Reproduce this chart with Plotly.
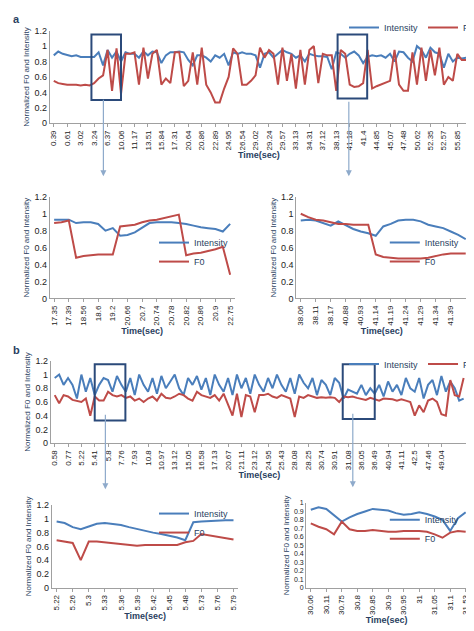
import plotly.graph_objects as go

BLUE = "#4a7ebb"; RED = "#be4b48"
# ---------- data ----------
a_labels = ["0.39","0.61","3.02","3.24","6.37","10.06","11.17","13.51","15.84","17.31","20.64","20.86","22.89","24.95","26.54","29.02","29.24","29.57","33.13","34.31","37.12","38.13","41.18","41.4","44.85","45.07","47.48","50.62","52.35","52.57","55.85"]
a_f0 = [0.55,0.52,0.51, 0.50,0.50,0.50, 0.49,0.50,0.49, 0.52,0.58,0.62, 0.95,0.42,0.97, 0.38,0.90,0.90,
        0.92,0.50,0.98, 0.58,0.90,0.95, 0.50,0.58,0.52, 0.92,0.92,0.48, 0.55,0.92,0.50, 0.98,0.50,0.40,
        0.27,0.27,0.45, 0.60,0.97,0.90, 0.50,0.50,0.55, 0.62,0.98,0.85, 0.95,0.90,0.50, 0.98,0.55,0.90,
        0.45,0.95,0.50, 0.95,1.0,0.52, 0.90,0.88,0.88, 0.42,0.95,0.90, 0.50,0.47,0.48, 0.52,0.95,0.45,
        0.48,0.50,0.52, 0.55,0.95,0.50, 0.42,0.42,0.92, 0.50,0.98,0.55, 0.95,0.62,0.98, 0.50,0.60,0.55,
        0.90,0.82,0.82]
a_int = [0.88,0.93,0.90, 0.88,0.87,0.88, 0.86,0.86,0.86, 0.86,0.92,0.75, 0.95,0.85,0.93, 0.80,0.92,0.90,
         0.90,0.85,0.93, 0.88,0.93,0.92, 0.78,0.88,0.92, 0.92,0.93,0.92, 0.82,0.75,0.88, 0.88,0.85,0.80,
         0.88,0.85,0.90, 0.75,0.92,0.90, 0.92,0.90,0.90, 0.88,0.72,0.90, 0.92,0.85,0.90, 0.95,0.92,0.90,
         0.85,0.88,0.80, 0.90,0.88,0.87, 0.87,0.86,0.70, 0.92,0.90,0.85, 0.90,0.93,0.88, 0.78,0.86,0.88,
         0.87,0.88,0.85, 0.90,0.80,0.93, 0.92,0.85,0.80, 1.0,0.95,0.85, 0.98,0.92,0.90, 0.72,0.90,0.80,
         0.85,0.84,0.85]

al_labels = ["17.35","17.39","18.56","18.6","19.2","20.66","20.7","20.74","20.78","20.82","20.86","20.9","22.75"]
al_f0 = [0.89,0.90, 0.92,0.48, 0.50,0.51, 0.52,0.52, 0.52,0.85, 0.86,0.87, 0.90,0.92, 0.93,0.95, 0.97,0.99,
         0.51,0.53, 0.54,0.56, 0.58,0.61, 0.28]
al_int = [0.93,0.93, 0.93,0.89, 0.90,0.90, 0.88,0.80, 0.83,0.74, 0.75,0.78, 0.84,0.89, 0.90,0.90, 0.90,0.89,
          0.88,0.86, 0.84,0.83, 0.82,0.79, 0.88]

ar_labels = ["38.06","38.11","38.17","40.88","40.93","41.14","41.19","41.24","41.29","41.34","41.39"]
ar_f0 = [1.0,0.96, 0.93,0.92, 0.90,0.88, 0.88,0.87, 0.87,0.87, 0.52,0.49, 0.48,0.47, 0.47,0.47, 0.47,0.48,
         0.50,0.52, 0.53,0.53, 0.53]
ar_int = [0.92,0.93, 0.92,0.89, 0.86,0.91, 0.86,0.82, 0.79,0.77, 0.74,0.85, 0.88,0.92, 0.93,0.93, 0.91,0.87,
          0.85,0.83, 0.79,0.75, 0.70]

b_labels = ["0.58","0.77","5.22","5.41","5.8","7.76","7.93","10.8","10.97","13.12","15.05","16.58","17.13","20.67","21.11","23.12","24.95","25.43","28.08","28.25","30.74","30.91","31.08","36.05","36.49","40.94","41.11","42.5","47.46","49.04"]
b_f0 = [0.70,0.58,0.70, 0.68,0.63,0.62, 0.60,0.65,0.40, 0.68,0.62,0.62, 0.75,0.70,0.68, 0.70,0.66,0.68,
        0.62,0.65,0.60, 0.65,0.68,0.62, 0.72,0.66,0.65, 0.68,0.72,0.70, 0.65,0.62,0.75, 0.70,0.68,0.66,
        0.70,0.62,0.72, 0.55,0.40,0.72, 0.38,0.70,0.68, 0.45,0.70,0.70, 0.72,0.68,0.66, 0.70,0.68,0.65,
        0.38,0.68,0.66, 0.70,0.68,0.66, 0.67,0.66,0.67, 0.66,0.60,0.68, 0.67,0.68,0.66, 0.65,0.63,0.66,
        0.64,0.62,0.65, 0.65,0.64,0.62, 0.64,0.62,0.60, 0.40,0.55,0.45, 0.62,0.65,0.60, 0.42,0.40,0.92,
        0.70,0.68,0.95]
b_int = [0.95,1.0,0.85, 0.95,0.85,0.65, 1.0,0.75,0.95, 0.70,0.85,0.95, 0.92,0.75,0.98, 0.85,0.75,0.95,
         0.70,1.0,0.85, 0.75,0.95,0.72, 0.98,0.80,0.90, 1.0,0.80,0.70, 0.95,0.85,0.98, 0.78,0.95,0.70,
         1.0,0.85,0.75, 0.95,0.70,1.0, 0.80,0.95,0.72, 1.0,0.85,0.75, 0.95,0.80,1.0, 0.85,0.75,0.95,
         0.72,1.0,0.88, 0.80,0.95,0.70, 0.92,0.85,0.70, 0.95,0.88,0.65, 0.78,0.75,0.72, 0.85,0.70,0.80,
         0.72,0.85,0.68, 0.90,0.75,0.85, 0.70,0.95,0.80, 0.75,0.95,0.65, 0.85,0.92,0.70, 0.98,0.75,0.90,
         0.80,0.62,0.65]

bl_labels = ["5.22","5.26","5.3","5.33","5.36","5.39","5.42","5.45","5.48","5.73","5.76","5.79"]
bl_f0 = [0.69,0.67, 0.65,0.40, 0.67,0.67, 0.66,0.65, 0.64,0.63, 0.61,0.62, 0.62,0.61, 0.61,0.62,
         0.66,0.68, 0.78,0.76, 0.73,0.71, 0.70]
bl_int = [0.96,0.94, 0.88,0.85, 0.89,0.93, 0.94,0.93, 0.91,0.88, 0.85,0.83, 0.80,0.78, 0.76,0.73,
          0.69,0.95, 0.96,0.97, 0.97,0.98, 0.98]

br_labels = ["30.06","30.11","30.75","30.8","30.85","30.9","30.95","31","31.05","31.1","31.53"]
br_f0 = [0.76,0.72, 0.69,0.63, 0.78,0.69, 0.67,0.67, 0.68,0.67, 0.66,0.66, 0.67,0.67, 0.67,0.66,
         0.63,0.59, 0.65,0.67, 0.66]
br_int = [0.92,0.95, 0.93,0.86, 0.78,0.83, 0.87,0.90, 0.93,0.92, 0.91,0.88, 0.86,0.87, 0.89,0.87,
          0.84,0.80, 0.67,0.82, 0.89]

# ---------- figure ----------
FONT = "Liberation Sans"
fig = go.Figure()

panels = [
    ("", a_labels, a_f0, a_int, 3, [0.0886, 0.9768], [0.8225, 0.9715], [0, 1.2], 0.2, "legend", [-0.3, 30.8], 9),
    ("2", al_labels, al_f0, al_int, 2, [0.0886, 0.481], [0.5404, 0.704], [0, 1.2], 0.2, "legend2", [-0.3, 12.3], 9),
    ("3", ar_labels, ar_f0, ar_int, 2, [0.612, 0.975], [0.5404, 0.704], [0, 1.2], 0.2, "legend3", [-0.3, 11.1], 9),
    ("4", b_labels, b_f0, b_int, 3, [0.0907, 0.9768], [0.3075, 0.4398], [0, 1.2], 0.2, "legend4", [-0.3, 31.0], 9),
    ("5", bl_labels, bl_f0, bl_int, 2, [0.093, 0.489], [0.0745, 0.2076], [0, 1.2], 0.2, "legend5", [-0.3, 11.3], 9),
    ("6", br_labels, br_f0, br_int, 2, [0.633, 0.975], [0.0745, 0.211], [0, 1.0], 0.1, "legend6", [-0.3, 10.1], 7),
]
legpos = {
    "legend": dict(x=1.0, y=1.0, orientation="h", xanchor="right", yanchor="top"),
    "legend2": dict(x=0.31, y=0.615, orientation="v"),
    "legend3": dict(x=0.80, y=0.615, orientation="v"),
    "legend4": dict(x=1.0, y=0.458, orientation="h", xanchor="right", yanchor="top"),
    "legend5": dict(x=0.31, y=0.14, orientation="v"),
    "legend6": dict(x=0.80, y=0.13, orientation="v"),
}
lay = {}
for key, labels, f0, inten, per, xd, yd, yr, dt, leg, xr, yfs in panels:
    xs = [i / per for i in range(len(f0))]
    xa = "x" + key; ya = "y" + key
    fig.add_trace(go.Scatter(x=xs, y=inten, mode="lines", name="Intensity", line=dict(color=BLUE, width=2),
                             xaxis=xa, yaxis=ya, legend=leg))
    fig.add_trace(go.Scatter(x=xs, y=f0, mode="lines", name="F0", line=dict(color=RED, width=2),
                             xaxis=xa, yaxis=ya, legend=leg))
    lay["xaxis" + key] = dict(domain=xd, anchor=ya, range=xr, tickmode="array",
                              tickvals=list(range(len(labels))), ticktext=labels, tickangle=-90,
                              showline=True, linecolor="#a0a0a0", ticks="outside", ticklen=3,
                              tickcolor="#a0a0a0", showgrid=False, zeroline=False,
                              tickfont=dict(size=8, family=FONT, color="#222"),
                              title=dict(text="<b>Time(sec)</b>", font=dict(size=9, family=FONT), standoff=2))
    lay["yaxis" + key] = dict(domain=yd, anchor=xa, range=yr, dtick=dt, showline=True, linecolor="#a0a0a0",
                              showgrid=False, zeroline=False, tickfont=dict(size=yfs, family=FONT, color="#222"),
                              title=dict(text="Normalized F0 and Intensity", font=dict(size=8, family=FONT), standoff=3))
    lay[leg] = dict(font=dict(size=9, family=FONT), bgcolor="rgba(0,0,0,0)", tracegroupgap=0,
                    itemwidth=30, **legpos[leg])

fig.update_layout(**lay)

for xref, yref, x0, x1, y0, y1 in [("x", "y", 2.8, 5.0, 0.30, 1.15), ("x", "y", 21.1, 23.3, 0.32, 1.15),
                                   ("x4", "y4", 3.0, 5.3, 0.33, 1.15), ("x4", "y4", 21.6, 24.0, 0.35, 1.15)]:
    fig.add_shape(type="rect", xref=xref, yref=yref, x0=x0, x1=x1, y0=y0, y1=y1,
                  line=dict(color="#2b4a7a", width=2))

for xp, yp0, yp1 in [(96, 88, 166), (343, 90, 166), (98, 408, 484), (347, 407, 482)]:
    fig.add_annotation(xref="paper", yref="paper", x=xp / 474, y=1 - yp1 / 631, ax=0, ay=-(yp1 - yp0),
                       showarrow=True, arrowhead=2, arrowsize=1, arrowwidth=1.2, arrowcolor="#8eaacb", text="")

for t, yp in [("a", 6), ("b", 342)]:
    fig.add_annotation(xref="paper", yref="paper", x=3 / 474, y=1 - yp / 631, text="<b>" + t + "</b>",
                       showarrow=False, xanchor="left", yanchor="middle", font=dict(size=11, family=FONT))

fig.update_layout(width=474, height=631, margin=dict(l=0, r=0, t=0, b=0),
                  paper_bgcolor="white", plot_bgcolor="white", showlegend=True)
fig.write_html("out.html")
